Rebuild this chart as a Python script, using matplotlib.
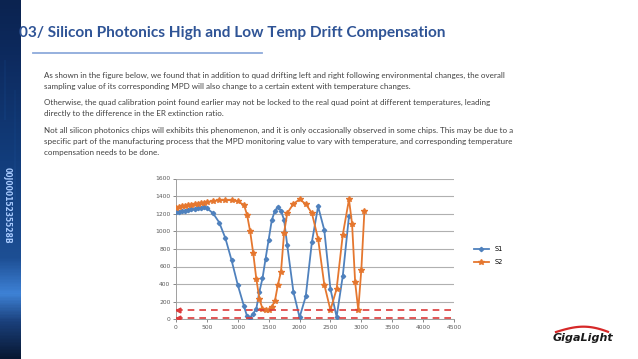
import matplotlib.pyplot as plt
import numpy as np
from matplotlib.colors import LinearSegmentedColormap

# S1 / S2 MPD sampling values
s1_x = [0, 50, 100, 150, 200, 250, 300, 350, 400, 450, 500,
        600, 700, 800, 900, 1000,
        1100, 1150, 1200, 1250, 1300, 1350, 1400, 1450, 1500, 1550, 1600, 1650, 1700, 1750,
        1800, 1900, 2000, 2100, 2200, 2300, 2400, 2500, 2600, 2700, 2800]
s1_y = [1222, 1224, 1228, 1234, 1241, 1248, 1255, 1261, 1267, 1271, 1262,
        1205, 1100, 920, 670, 390,
        150, 35, 20, 65, 120, 315, 465, 690, 905, 1125, 1232, 1278, 1232, 1128,
        845, 315, 22, 260, 880, 1282, 1015, 345, 28, 495, 1172]

s2_x = [0, 50, 100, 150, 200, 250, 300, 350, 400, 450, 500,
        600, 700, 800, 900, 1000,
        1100, 1150, 1200, 1250, 1300, 1350, 1400, 1450, 1500, 1550, 1600, 1650, 1700, 1750,
        1800, 1900, 2000, 2100, 2200, 2300, 2400, 2500, 2600, 2700,
        2800, 2850, 2900, 2950, 3000, 3050]
s2_y = [1268, 1276, 1283, 1290, 1297, 1303, 1309, 1315, 1320, 1325, 1332,
        1345, 1352, 1355, 1353, 1340,
        1300, 1188, 1000, 752, 460, 232, 120, 104, 104, 145, 205, 395, 543, 985,
        1205, 1312, 1362, 1312, 1205, 915, 395, 106, 346, 962,
        1362, 1085, 420, 106, 565, 1232]

ref_levels = [106, 20]   # red dashed marker lines
x_ticks = list(range(0, 5000, 500))
y_ticks = list(range(0, 1800, 200))

title = "03/ Silicon Photonics High and Low Temp Drift Compensation"
paragraphs = [
    ["As shown in the figure below, we found that in addition to quad drifting left and right following environmental changes, the overall",
     "sampling value of its corresponding MPD will also change to a certain extent with temperature changes."],
    ["Otherwise, the quad calibration point found earlier may not be locked to the real quad point at different temperatures, leading",
     "directly to the difference in the ER extinction ratio."],
    ["Not all silicon photonics chips will exhibits this phenomenon, and it is only occasionally observed in some chips. This may be due to a",
     "specific part of the manufacturing process that the MPD monitoring value to vary with temperature, and corresponding temperature",
     "compensation needs to be done."],
]

W, H = 638, 359
fig = plt.figure(figsize=(W / 100, H / 100), dpi=100)
fig.patch.set_facecolor('white')

# left decorative strip
ax_s = fig.add_axes([0, 0, 21 / W, 1])
cm = LinearSegmentedColormap.from_list('strip', [
    (0.0, '#0b2350'), (0.15, '#0d2a5e'), (0.45, '#123d7c'),
    (0.72, '#1d4f94'), (0.82, '#3e82d6'), (0.9, '#1a3f7a'), (1.0, '#081833')])
grad = np.linspace(0, 1, H)[:, None] * np.ones((1, 21))
streak = np.zeros((H, 21))
streak[60:120, 4:6] = 0.08
streak[90:200, 14:16] = 0.06
ax_s.imshow(np.clip(grad + streak, 0, 1), aspect='auto', cmap=cm, vmin=0, vmax=1)
ax_s.text(7, 205, "00J00015235528B", rotation=-90, color='#a9cbff', fontsize=5.5,
          ha='center', va='center', fontweight='bold')
ax_s.axis('off')

# title and underline
fig.text(19 / W, 1 - 33 / H, title, fontsize=11.1, fontweight='bold',
         color='#2f5496', va='center', family='Lato')
fig.add_artist(plt.Line2D([33 / W, 262 / W], [1 - 52.5 / H] * 2,
                          color='#8eaadb', lw=1.3, transform=fig.transFigure))

# body text
y = 75
for para in paragraphs:
    for line in para:
        fig.text(43.5 / W, 1 - y / H, line, fontsize=5.8, color='#404040',
                 va='center', family='Lato')
        y += 11
    y += 5.6

# chart
ax = fig.add_axes([176 / W, 1 - 319.3 / H, 278 / W, 140.8 / H])
ax.set_xlim(0, 4500)
ax.set_ylim(0, 1600)
ax.set_xticks(x_ticks)
ax.set_yticks(y_ticks)
ax.grid(axis='y', color='#b0b0b0', lw=0.8)
ax.set_axisbelow(True)
for sp in ['top', 'right']:
    ax.spines[sp].set_visible(False)
for sp in ['left', 'bottom']:
    ax.spines[sp].set_color('#a0a0a0')
    ax.spines[sp].set_linewidth(0.7)
ax.tick_params(labelsize=4.3, colors='#595959', length=2, width=0.5, pad=2)

ax.plot(s1_x, s1_y, color='#4f81bd', lw=1.3, marker='D', ms=2.2,
        label='S1', zorder=3)
ax.plot(s2_x, s2_y, color='#e5772f', lw=1.3, marker='*', ms=3.8,
        label='S2', zorder=3)

for lv in ref_levels:
    ax.plot([0, 4450], [lv, lv], color='#dc3a3a', lw=1.2, ls=(0, (4, 3)), zorder=4)
    ax.plot([40], [lv], color='#dc3a3a', marker='<', ms=3.5, zorder=4)

ax.legend(loc='center left', bbox_to_anchor=(468 / W, 1 - 255.5 / H),
          bbox_transform=fig.transFigure, frameon=False, fontsize=4.8,
          handlelength=2.2, handletextpad=0.9, labelspacing=1.0)

# logo
fig.text(553 / W, 1 - 338 / H, "GigaLight", fontsize=8, fontweight='bold',
         style='italic', color='#1a1a1a', va='center', family='DejaVu Sans')
t = np.linspace(0, 1, 50)
fig.add_artist(plt.Line2D((556 + 52 * t) / W, 1 - (332 - 7 * np.sin(np.pi * t * 0.85) + 3 * t) / H,
                          color='#d62828', lw=1.6, transform=fig.transFigure))

fig.savefig('out.png', dpi=100)
